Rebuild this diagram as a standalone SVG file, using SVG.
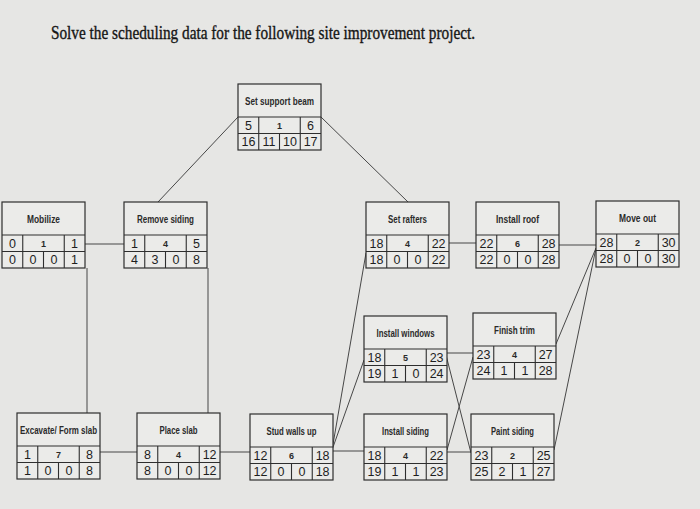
<svg xmlns="http://www.w3.org/2000/svg" width="700" height="509" viewBox="0 0 700 509">
<defs>
<style>
.bg{fill:#e6e6e4}
.box{fill:#ebebe9;stroke:#2e2e2e;stroke-width:1.2}
.div{stroke:#2e2e2e;stroke-width:1.1}
.con{fill:none;stroke:#474747;stroke-width:1}
.lbl{font-family:"Liberation Sans",Arial,sans-serif;font-size:10px;font-weight:bold;fill:#2a2a2a;text-anchor:middle}
.num{font-family:"Liberation Sans",Arial,sans-serif;font-size:12.5px;fill:#1e1e1e;text-anchor:middle}
.dur{font-family:"Liberation Sans",Arial,sans-serif;font-size:9px;font-weight:bold;fill:#2a2a2a;text-anchor:middle}
.title{font-family:"Liberation Serif","Times New Roman",serif;font-size:18px;fill:#151515;stroke:#151515;stroke-width:0.35}
</style>
<g id="frame">
<rect class="box" x="0" y="0" width="83" height="66"/>
<line class="div" x1="0" y1="33" x2="83" y2="33"/>
<line class="div" x1="0" y1="49.5" x2="83" y2="49.5"/>
<line class="div" x1="20.75" y1="33" x2="20.75" y2="66"/>
<line class="div" x1="62.25" y1="33" x2="62.25" y2="66"/>
<line class="div" x1="41.5" y1="49.5" x2="41.5" y2="66"/>
</g>
</defs>
<rect class="bg" x="0" y="0" width="700" height="509"/>
<text class="title" x="51" y="39" textLength="424" lengthAdjust="spacingAndGlyphs">Solve the scheduling data for the following site improvement project.</text>

<g id="connectors">
<path class="con" d="M85 244 H124"/>
<path class="con" d="M87 268 V413"/>
<path class="con" d="M158 202 L238 117"/>
<path class="con" d="M208 268 V413"/>
<path class="con" d="M321 117 L408 202"/>
<path class="con" d="M100 452 H137"/>
<path class="con" d="M220 452 H250"/>
<path class="con" d="M332 450 L366 253"/>
<path class="con" d="M332 450 L364 360"/>
<path class="con" d="M333 451 H364"/>
<path class="con" d="M449 243 H476"/>
<path class="con" d="M447 353 H473"/>
<path class="con" d="M446 355 L471 453"/>
<path class="con" d="M447 450 L473 357"/>
<path class="con" d="M447 452 H471"/>
<path class="con" d="M559 245 H596"/>
<path class="con" d="M556 344 L596 248"/>
<path class="con" d="M554 450 L596 248"/>
</g>

<g id="mobilize" transform="translate(2,202)">
<use href="#frame"/>
<text class="lbl" x="41.5" y="20.5" textLength="33" lengthAdjust="spacingAndGlyphs">Mobilize</text>
<text class="num" x="10.4" y="45.5">0</text><text class="dur" x="41.5" y="45">1</text><text class="num" x="72.6" y="45.5">1</text>
<text class="num" x="10.4" y="62">0</text><text class="num" x="31.1" y="62">0</text><text class="num" x="51.9" y="62">0</text><text class="num" x="72.6" y="62">1</text>
</g>

<g id="remove-siding" transform="translate(124,202)">
<use href="#frame"/>
<text class="lbl" x="41.5" y="20.5" textLength="57" lengthAdjust="spacingAndGlyphs">Remove siding</text>
<text class="num" x="10.4" y="45.5">1</text><text class="dur" x="41.5" y="45">4</text><text class="num" x="72.6" y="45.5">5</text>
<text class="num" x="10.4" y="62">4</text><text class="num" x="31.1" y="62">3</text><text class="num" x="51.9" y="62">0</text><text class="num" x="72.6" y="62">8</text>
</g>

<g id="set-support-beam" transform="translate(238,84)">
<use href="#frame"/>
<text class="lbl" x="41.5" y="20.5" textLength="69" lengthAdjust="spacingAndGlyphs">Set support beam</text>
<text class="num" x="10.4" y="45.5">5</text><text class="dur" x="41.5" y="45">1</text><text class="num" x="72.6" y="45.5">6</text>
<text class="num" x="10.4" y="62">16</text><text class="num" x="31.1" y="62">11</text><text class="num" x="51.9" y="62">10</text><text class="num" x="72.6" y="62">17</text>
</g>

<g id="set-rafters" transform="translate(366,202)">
<use href="#frame"/>
<text class="lbl" x="41.5" y="20.5" textLength="39" lengthAdjust="spacingAndGlyphs">Set rafters</text>
<text class="num" x="10.4" y="45.5">18</text><text class="dur" x="41.5" y="45">4</text><text class="num" x="72.6" y="45.5">22</text>
<text class="num" x="10.4" y="62">18</text><text class="num" x="31.1" y="62">0</text><text class="num" x="51.9" y="62">0</text><text class="num" x="72.6" y="62">22</text>
</g>

<g id="install-roof" transform="translate(476,202)">
<use href="#frame"/>
<text class="lbl" x="41.5" y="20.5" textLength="43" lengthAdjust="spacingAndGlyphs">Install roof</text>
<text class="num" x="10.4" y="45.5">22</text><text class="dur" x="41.5" y="45">6</text><text class="num" x="72.6" y="45.5">28</text>
<text class="num" x="10.4" y="62">22</text><text class="num" x="31.1" y="62">0</text><text class="num" x="51.9" y="62">0</text><text class="num" x="72.6" y="62">28</text>
</g>

<g id="move-out" transform="translate(596,201)">
<use href="#frame"/>
<text class="lbl" x="41.5" y="20.5" textLength="37" lengthAdjust="spacingAndGlyphs">Move out</text>
<text class="num" x="10.4" y="45.5">28</text><text class="dur" x="41.5" y="45">2</text><text class="num" x="72.6" y="45.5">30</text>
<text class="num" x="10.4" y="62">28</text><text class="num" x="31.1" y="62">0</text><text class="num" x="51.9" y="62">0</text><text class="num" x="72.6" y="62">30</text>
</g>

<g id="install-windows" transform="translate(364,316)">
<use href="#frame"/>
<text class="lbl" x="41.5" y="20.5" textLength="58" lengthAdjust="spacingAndGlyphs">Install windows</text>
<text class="num" x="10.4" y="45.5">18</text><text class="dur" x="41.5" y="45">5</text><text class="num" x="72.6" y="45.5">23</text>
<text class="num" x="10.4" y="62">19</text><text class="num" x="31.1" y="62">1</text><text class="num" x="51.9" y="62">0</text><text class="num" x="72.6" y="62">24</text>
</g>

<g id="finish-trim" transform="translate(473,313)">
<use href="#frame"/>
<text class="lbl" x="41.5" y="20.5" textLength="41" lengthAdjust="spacingAndGlyphs">Finish trim</text>
<text class="num" x="10.4" y="45.5">23</text><text class="dur" x="41.5" y="45">4</text><text class="num" x="72.6" y="45.5">27</text>
<text class="num" x="10.4" y="62">24</text><text class="num" x="31.1" y="62">1</text><text class="num" x="51.9" y="62">1</text><text class="num" x="72.6" y="62">28</text>
</g>

<g id="excavate-form-slab" transform="translate(17,413)">
<use href="#frame"/>
<text class="lbl" x="41.5" y="20.5" textLength="77" lengthAdjust="spacingAndGlyphs">Excavate/ Form slab</text>
<text class="num" x="10.4" y="45.5">1</text><text class="dur" x="41.5" y="45">7</text><text class="num" x="72.6" y="45.5">8</text>
<text class="num" x="10.4" y="62">1</text><text class="num" x="31.1" y="62">0</text><text class="num" x="51.9" y="62">0</text><text class="num" x="72.6" y="62">8</text>
</g>

<g id="place-slab" transform="translate(137,413)">
<use href="#frame"/>
<text class="lbl" x="41.5" y="20.5" textLength="38" lengthAdjust="spacingAndGlyphs">Place slab</text>
<text class="num" x="10.4" y="45.5">8</text><text class="dur" x="41.5" y="45">4</text><text class="num" x="72.6" y="45.5">12</text>
<text class="num" x="10.4" y="62">8</text><text class="num" x="31.1" y="62">0</text><text class="num" x="51.9" y="62">0</text><text class="num" x="72.6" y="62">12</text>
</g>

<g id="stud-walls-up" transform="translate(250,414)">
<use href="#frame"/>
<text class="lbl" x="41.5" y="20.5" textLength="50" lengthAdjust="spacingAndGlyphs">Stud walls up</text>
<text class="num" x="10.4" y="45.5">12</text><text class="dur" x="41.5" y="45">6</text><text class="num" x="72.6" y="45.5">18</text>
<text class="num" x="10.4" y="62">12</text><text class="num" x="31.1" y="62">0</text><text class="num" x="51.9" y="62">0</text><text class="num" x="72.6" y="62">18</text>
</g>

<g id="install-siding" transform="translate(364,414)">
<use href="#frame"/>
<text class="lbl" x="41.5" y="20.5" textLength="47" lengthAdjust="spacingAndGlyphs">Install siding</text>
<text class="num" x="10.4" y="45.5">18</text><text class="dur" x="41.5" y="45">4</text><text class="num" x="72.6" y="45.5">22</text>
<text class="num" x="10.4" y="62">19</text><text class="num" x="31.1" y="62">1</text><text class="num" x="51.9" y="62">1</text><text class="num" x="72.6" y="62">23</text>
</g>

<g id="paint-siding" transform="translate(471,414)">
<use href="#frame"/>
<text class="lbl" x="41.5" y="20.5" textLength="43" lengthAdjust="spacingAndGlyphs">Paint siding</text>
<text class="num" x="10.4" y="45.5">23</text><text class="dur" x="41.5" y="45">2</text><text class="num" x="72.6" y="45.5">25</text>
<text class="num" x="10.4" y="62">25</text><text class="num" x="31.1" y="62">2</text><text class="num" x="51.9" y="62">1</text><text class="num" x="72.6" y="62">27</text>
</g>
</svg>
